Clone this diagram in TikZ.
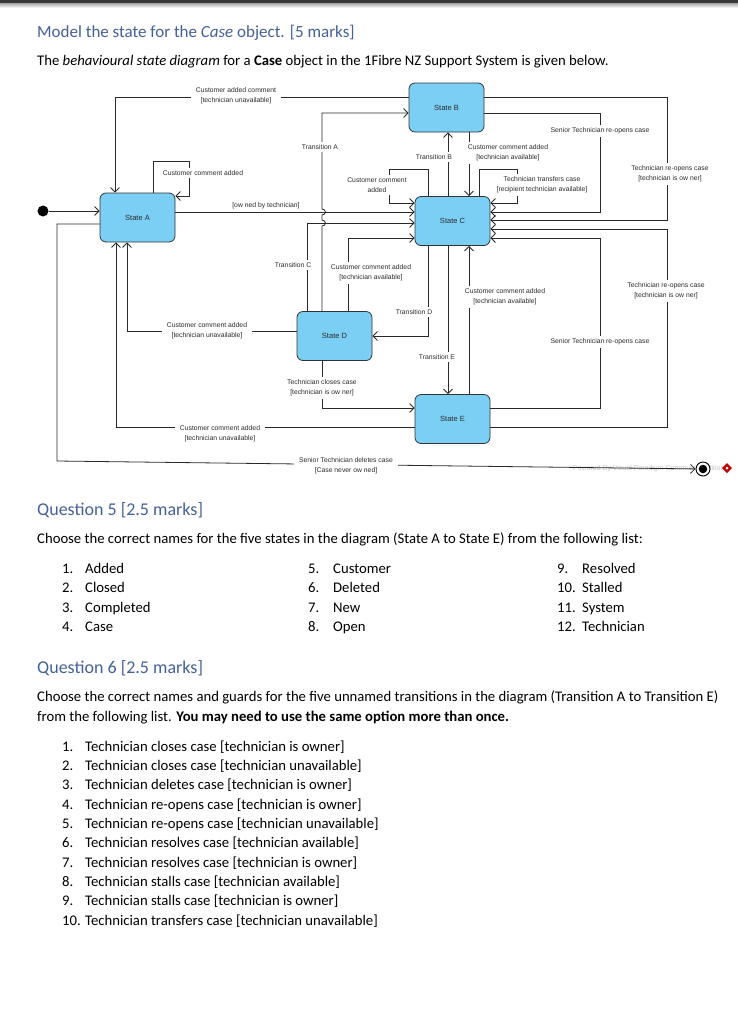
\documentclass[tikz,border=0pt]{standalone}
\usepackage{fontspec}
\setmainfont{Carlito}
\newfontfamily\lb{Liberation Sans}
\usetikzlibrary{arrows.meta,calc}
\definecolor{stfill}{HTML}{7BCFF4}
\definecolor{stline}{HTML}{333333}
\definecolor{lc}{HTML}{2A2A2A}
\definecolor{tc}{HTML}{2B2B2B}
\definecolor{hd}{HTML}{44619A}
\definecolor{wm}{HTML}{C4C4C4}
\tikzset{
  st/.style={draw=stline, fill=stfill, rounded corners=6pt, minimum width=75pt, minimum height=49pt, inner sep=0pt, line width=0.8pt, font=\lb\fontsize{7.5}{8}\selectfont, text=tc},
  tr/.style={draw=lc, line width=0.8pt, -{Straight Barb[length=4.5pt,width=9pt]}},
  lbl/.style={fill=white, inner xsep=5pt, inner ysep=2.5pt, align=center, font=\lb\fontsize{6.8}{10}\selectfont, text=tc},
  bodytext/.style={anchor=base west, inner sep=0pt, font=\fontsize{14.7}{17}\selectfont},
  headtext/.style={anchor=base west, inner sep=0pt, font=\fontsize{18}{21}\selectfont, text=hd},
}
\begin{document}
\begin{tikzpicture}[x=1pt,y=-1pt]
\useasboundingbox (0,0) rectangle (738,1013);
\fill[white] (0,0) rectangle (738,1013);
% top bar
\fill[black!78] (0,0) rectangle (738,3);
\shade[top color=black!35, bottom color=white] (0,3) rectangle (738,8);

% headings and text
\node[headtext, font=\fontsize{17}{20}\selectfont] (t1) at (37,37) {Model the state for the \textit{Case} object. [5 marks]};
\node[bodytext] (t2) at (37,65) {The \textit{behavioural state diagram} for a \textbf{Case} object in the 1Fibre NZ Support System is given below.};

% states
\node[st] (A) at (137.5,217.5) {State A};
\node[st] (B) at (446.5,107.5) {State B};
\node[st] (C) at (452.5,221) {State C};
\node[st] (D) at (334.5,336) {State D};
\node[st] (E) at (452.5,419) {State E};

% watermark and final state
\node[anchor=west, inner sep=0pt, font=\lb\fontsize{7}{8}\selectfont, text=wm] (wmk) at (573,469) {Powered By Visual Paradigm Community Edition};
\fill[red!75!black] (727,463) -- (732,468) -- (727,473) -- (722,468) -- cycle;
\fill[white] (727,466.5) -- (728.5,468) -- (727,469.5) -- (725.5,468) -- cycle;
\node[circle, draw=black, line width=0.9pt, fill=white, minimum size=14pt, inner sep=0pt] (fin) at (703,469) {};
\node[circle, fill=black, minimum size=8.5pt, inner sep=0pt] (finc) at (fin) {};

% initial
\node[circle, fill=black, minimum size=11pt, inner sep=0pt] (init) at (43,211) {};
\draw[tr] (init) -- (init -| A.west);

% connectors
\draw[tr] (B.west |- 0,97) -- (115,97) -- (115,0 |- A.north);
\draw[tr] (153,0 |- A.north) -- (153,161) -- (189,161) -- (189,196) -- (A.east |- 0,196);
\draw[tr] (A.east |- 0,212) -- (C.west |- 0,212);
\draw[tr] (322,0 |- D.north) -- (322,226) .. controls (326.5,226) and (326.5,220) .. (322,220) -- (322,215) .. controls (326.5,215) and (326.5,209) .. (322,209) -- (322,113) -- (B.west |- 0,113);
\draw[tr] (307,0 |- D.north) -- (307,223) -- (C.west |- 0,223);
\draw[tr] (348,0 |- D.north) -- (348,238) -- (C.west |- 0,238);
\draw[tr] (428,0 |- C.north) -- (428,169) -- (389,169) -- (389,203) -- (C.west |- 0,203);
\draw[tr] (448,0 |- C.north) -- (448,0 |- B.south);
\draw[tr] (469,0 |- B.south) -- (469,0 |- C.north);
\draw[tr] (479,0 |- C.north) -- (479,169) -- (517,169) -- (517,203) -- (C.east |- 0,203);
\draw[tr] (B.east |- 0,113) -- (600,113) -- (600,212) -- (C.east |- 0,212);
\draw[tr] (B.east |- 0,97) -- (667,97) -- (667,220) -- (C.east |- 0,220);
\draw[tr] (E.east |- 0,427) -- (667,427) -- (667,229) -- (C.east |- 0,229);
\draw[tr] (E.east |- 0,408) -- (600,408) -- (600,238) -- (C.east |- 0,238);
\draw[tr] (428,0 |- C.south) -- (428,336) -- (D.east |- 0,336);
\draw[tr] (448,0 |- C.south) -- (448,0 |- E.north);
\draw[tr] (469,0 |- E.north) -- (469,0 |- C.south);
\draw[tr] (D.west |- 0,331) -- (127,331) -- (127,0 |- A.south);
\draw[tr] (322,0 |- D.south) -- (322,408) -- (E.west |- 0,408);
\draw[tr] (E.west |- 0,427) -- (116,427) -- (116,0 |- A.south);
\draw[tr] (A.west |- 0,224) -- (57,224) -- (57,461) -- (fin);

% labels
\node[lbl] (l1) at (236,96) {Customer added comment\\{[technician unavailable]}};
\node[lbl] (l2) at (203,173) {Customer comment added};
\node[lbl, fill=none, inner sep=0pt] (l3) at (266,206) {[ow ned by technician]};
\node[lbl] (l4) at (320,147) {Transition A};
\node[lbl] (l5) at (434,157) {Transition B};
\node[lbl] (l6) at (377,185) {Customer comment\\added};
\node[lbl] (l7) at (508,153) {Customer comment added\\{[technician available]}};
\node[lbl] (l8) at (542,185) {Technician transfers case\\{[recipient technician available]}};
\node[lbl] (l9) at (600,131) {Senior Technician re-opens case};
\node[lbl] (l10) at (670,174) {Technician re-opens case\\{[technician is ow ner]}};
\node[lbl] (l11) at (293,265) {Transition C};
\node[lbl] (l12) at (371,273) {Customer comment added\\{[technician available]}};
\node[lbl] (l13) at (414,312) {Transition D};
\node[lbl] (l14) at (437,357) {Transition E};
\node[lbl] (l15) at (505,297) {Customer comment added\\{[technician available]}};
\node[lbl] (l16) at (666,291) {Technician re-opens case\\{[technician is ow ner]}};
\node[lbl] (l17) at (600,342) {Senior Technician re-opens case};
\node[lbl] (l18) at (207,331) {Customer comment added\\{[technician unavailable]}};
\node[lbl] (l19) at (322,388) {Technician closes case\\{[technician is ow ner]}};
\node[lbl] (l20) at (220,434) {Customer comment added\\{[technician unavailable]}};
\node[lbl] (l21) at (346,466) {Senior Technician deletes case\\{[Case never ow ned]}};

% Question 5
\node[headtext] (q5) at (37,515) {Question 5 [2.5 marks]};
\node[bodytext] (q5t) at (37,543) {Choose the correct names for the five states in the diagram (State A to State E) from the following list:};
\foreach \n/\t [count=\i] in {1./Added,2./Closed,3./Completed,4./Case}{
  \node[bodytext] at (62,{573+19.6*(\i-1)}) {\n};
  \node[bodytext] at (85,{573+19.6*(\i-1)}) {\t};
}
\foreach \n/\t [count=\i] in {5./Customer,6./Deleted,7./New,8./Open}{
  \node[bodytext] at (308,{573+19.6*(\i-1)}) {\n};
  \node[bodytext] at (333,{573+19.6*(\i-1)}) {\t};
}
\foreach \n/\t [count=\i] in {9./Resolved,10./Stalled,11./System,12./Technician}{
  \node[bodytext] at (557,{573+19.6*(\i-1)}) {\n};
  \node[bodytext] at (582,{573+19.6*(\i-1)}) {\t};
}

% Question 6
\node[headtext] (q6) at (37,673) {Question 6 [2.5 marks]};
\node[bodytext] (q6a) at (37,701) {Choose the correct names and guards for the five unnamed transitions in the diagram (Transition A to Transition E)};
\node[bodytext] (q6b) at (37,721) {from the following list. \textbf{You may need to use the same option more than once.}};
\foreach \t [count=\i] in {
  {Technician closes case [technician is owner]},
  {Technician closes case [technician unavailable]},
  {Technician deletes case [technician is owner]},
  {Technician re-opens case [technician is owner]},
  {Technician re-opens case [technician unavailable]},
  {Technician resolves case [technician available]},
  {Technician resolves case [technician is owner]},
  {Technician stalls case [technician available]},
  {Technician stalls case [technician is owner]},
  {Technician transfers case [technician unavailable]}}{
  \node[bodytext] at (62,{751+19.35*(\i-1)}) {\i.};
  \node[bodytext] at (85,{751+19.35*(\i-1)}) {\t};
}
\end{tikzpicture}
\end{document}
